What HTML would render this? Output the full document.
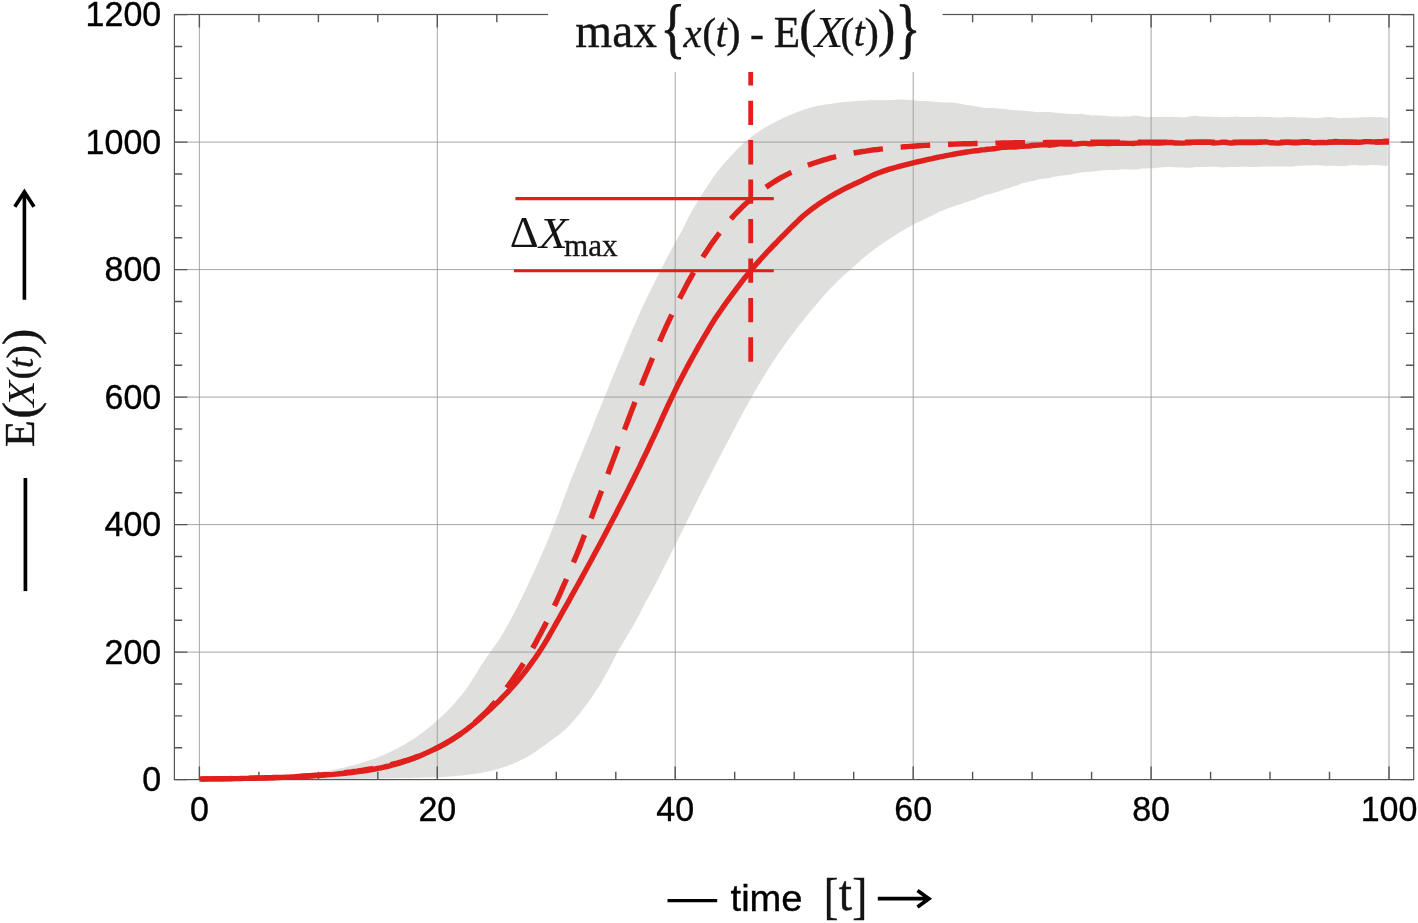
<!DOCTYPE html>
<html><head><meta charset="utf-8"><title>E(X(t)) versus time</title>
<style>html,body{margin:0;padding:0;background:#fff}svg{display:block}</style></head>
<body>
<svg width="1418" height="923" viewBox="0 0 1418 923">
<rect width="1418" height="923" fill="#fff"/>
<path d="M199.4,778.3 L202.4,778.3 L205.3,778.3 L208.3,778.3 L211.3,778.3 L214.3,778.2 L217.2,778.2 L220.2,778.1 L223.2,778.1 L226.2,778.0 L229.1,777.9 L232.1,777.9 L235.1,777.8 L238.1,777.7 L241.0,777.6 L244.0,777.5 L247.0,777.4 L250.0,777.3 L252.9,777.2 L255.9,777.1 L258.9,777.1 L261.9,776.9 L264.8,776.8 L267.8,776.7 L270.8,776.5 L273.8,776.3 L276.7,776.1 L279.7,775.9 L282.7,775.7 L285.6,775.5 L288.6,775.3 L291.6,775.1 L294.6,774.8 L297.5,774.6 L300.5,774.3 L303.5,774.0 L306.5,773.7 L309.4,773.4 L312.4,773.0 L315.4,772.7 L318.4,772.3 L321.3,771.8 L324.3,771.4 L327.3,770.9 L330.3,770.3 L333.2,769.8 L336.2,769.2 L339.2,768.6 L342.2,767.9 L345.1,767.2 L348.1,766.5 L351.1,765.8 L354.0,765.0 L357.0,764.2 L360.0,763.3 L363.0,762.4 L365.9,761.5 L368.9,760.5 L371.9,759.5 L374.9,758.4 L377.8,757.3 L380.8,756.1 L383.8,754.9 L386.8,753.6 L389.7,752.2 L392.7,750.8 L395.7,749.2 L398.7,747.7 L401.6,746.1 L404.6,744.4 L407.6,742.6 L410.6,740.8 L413.5,738.9 L416.5,736.9 L419.5,734.7 L422.5,732.5 L425.4,730.3 L428.4,727.9 L431.4,725.4 L434.3,722.9 L437.3,720.3 L440.3,717.6 L443.3,714.8 L446.2,711.9 L449.2,708.9 L452.2,705.7 L455.2,702.4 L458.1,699.0 L461.1,695.4 L464.1,691.7 L467.1,687.8 L470.0,683.4 L473.0,678.8 L476.0,674.0 L479.0,669.1 L481.9,664.3 L484.9,659.8 L487.9,655.4 L490.9,651.2 L493.8,647.1 L496.8,642.9 L499.8,638.4 L502.7,633.7 L505.7,628.6 L508.7,623.3 L511.7,617.7 L514.6,612.0 L517.6,606.1 L520.6,600.1 L523.6,594.0 L526.5,587.7 L529.5,581.4 L532.5,574.9 L535.5,568.5 L538.4,562.0 L541.4,555.2 L544.4,548.3 L547.4,541.3 L550.3,534.0 L553.3,526.7 L556.3,519.1 L559.3,511.2 L562.2,503.0 L565.2,494.9 L568.2,486.9 L571.1,479.3 L574.1,471.9 L577.1,464.6 L580.1,457.4 L583.0,450.3 L586.0,443.0 L589.0,435.6 L592.0,428.2 L594.9,420.8 L597.9,413.3 L600.9,405.9 L603.9,398.6 L606.8,391.3 L609.8,384.0 L612.8,376.7 L615.8,369.5 L618.7,362.3 L621.7,355.2 L624.7,348.1 L627.7,341.0 L630.6,334.0 L633.6,327.0 L636.6,320.2 L639.6,313.6 L642.5,307.1 L645.5,300.8 L648.5,294.6 L651.4,288.6 L654.4,282.6 L657.4,276.6 L660.4,270.7 L663.3,264.9 L666.3,259.1 L669.3,253.5 L672.3,247.9 L675.2,242.5 L678.2,237.3 L681.2,231.9 L684.2,226.2 L687.1,220.1 L690.1,214.3 L693.1,208.9 L696.1,203.9 L699.0,199.2 L702.0,194.5 L705.0,189.8 L708.0,185.2 L710.9,180.7 L713.9,176.3 L716.9,172.3 L719.9,168.5 L722.8,165.0 L725.8,161.5 L728.8,158.2 L731.7,155.0 L734.7,151.9 L737.7,148.8 L740.7,145.9 L743.6,143.1 L746.6,140.6 L749.6,138.2 L752.6,135.9 L755.5,133.8 L758.5,131.8 L761.5,129.8 L764.5,128.0 L767.4,126.2 L770.4,124.6 L773.4,122.9 L776.4,121.4 L779.3,119.9 L782.3,118.4 L785.3,117.0 L788.3,115.7 L791.2,114.5 L794.2,113.3 L797.2,112.2 L800.1,111.0 L803.1,110.0 L806.1,109.0 L809.1,108.1 L812.0,107.3 L815.0,106.5 L818.0,105.8 L821.0,105.2 L823.9,104.7 L826.9,104.3 L829.9,103.9 L832.9,103.5 L835.8,103.1 L838.8,102.7 L841.8,102.3 L844.8,102.0 L847.7,101.7 L850.7,101.5 L853.7,101.2 L856.7,100.9 L859.6,100.8 L862.6,100.7 L865.6,100.6 L868.6,100.5 L871.5,100.1 L874.5,100.2 L877.5,100.2 L880.4,100.1 L883.4,100.3 L886.4,100.3 L889.4,100.0 L892.3,99.9 L895.3,99.7 L898.3,99.5 L901.3,99.5 L904.2,99.7 L907.2,99.7 L910.2,99.9 L913.2,100.4 L916.1,100.5 L919.1,101.0 L922.1,100.9 L925.1,100.9 L928.0,101.3 L931.0,101.4 L934.0,101.8 L937.0,102.0 L939.9,102.2 L942.9,102.5 L945.9,102.5 L948.8,102.6 L951.8,102.4 L954.8,102.7 L957.8,103.2 L960.7,103.7 L963.7,104.4 L966.7,104.9 L969.7,105.3 L972.6,105.9 L975.6,106.4 L978.6,106.8 L981.6,107.5 L984.5,107.8 L987.5,108.1 L990.5,108.1 L993.5,108.1 L996.4,108.4 L999.4,108.6 L1002.4,108.7 L1005.4,109.1 L1008.3,109.6 L1011.3,109.9 L1014.3,110.1 L1017.2,110.2 L1020.2,110.5 L1023.2,110.6 L1026.2,111.1 L1029.1,111.2 L1032.1,111.5 L1035.1,111.9 L1038.1,112.2 L1041.0,112.1 L1044.0,111.9 L1047.0,112.0 L1050.0,112.1 L1052.9,112.4 L1055.9,112.8 L1058.9,113.1 L1061.9,113.2 L1064.8,113.7 L1067.8,113.8 L1070.8,114.0 L1073.8,114.0 L1076.7,113.9 L1079.7,114.1 L1082.7,114.0 L1085.7,114.8 L1088.6,115.1 L1091.6,115.4 L1094.6,115.6 L1097.5,115.2 L1100.5,115.5 L1103.5,115.8 L1106.5,115.9 L1109.4,116.3 L1112.4,116.4 L1115.4,116.2 L1118.4,116.4 L1121.3,116.7 L1124.3,116.5 L1127.3,116.4 L1130.3,116.2 L1133.2,115.5 L1136.2,115.7 L1139.2,116.1 L1142.2,116.5 L1145.1,117.1 L1148.1,117.2 L1151.1,116.9 L1154.1,117.1 L1157.0,116.9 L1160.0,117.1 L1163.0,117.1 L1166.0,116.8 L1168.9,116.9 L1171.9,116.7 L1174.9,116.9 L1177.8,117.0 L1180.8,117.2 L1183.8,117.3 L1186.8,116.9 L1189.7,116.4 L1192.7,115.9 L1195.7,115.8 L1198.7,116.3 L1201.6,116.4 L1204.6,116.6 L1207.6,116.8 L1210.6,116.7 L1213.5,117.0 L1216.5,117.1 L1219.5,117.1 L1222.5,117.2 L1225.4,117.3 L1228.4,116.9 L1231.4,116.9 L1234.4,116.8 L1237.3,116.6 L1240.3,116.9 L1243.3,117.1 L1246.2,117.1 L1249.2,117.0 L1252.2,117.1 L1255.2,116.9 L1258.1,116.6 L1261.1,116.9 L1264.1,116.9 L1267.1,117.1 L1270.0,117.1 L1273.0,117.3 L1276.0,117.5 L1279.0,117.5 L1281.9,117.6 L1284.9,117.2 L1287.9,116.8 L1290.9,117.0 L1293.8,117.0 L1296.8,117.2 L1299.8,117.6 L1302.8,117.2 L1305.7,117.5 L1308.7,117.8 L1311.7,117.8 L1314.7,118.2 L1317.6,118.1 L1320.6,117.7 L1323.6,117.6 L1326.5,117.1 L1329.5,117.0 L1332.5,117.3 L1335.5,117.5 L1338.4,118.0 L1341.4,118.2 L1344.4,117.8 L1347.4,117.8 L1350.3,118.0 L1353.3,117.7 L1356.3,117.8 L1359.3,117.6 L1362.2,117.3 L1365.2,117.3 L1368.2,117.3 L1371.2,117.1 L1374.1,117.1 L1377.1,117.2 L1380.1,117.1 L1383.1,117.6 L1386.0,117.7 L1387.8,117.8 L1387.8,165.4 L1386.0,165.9 L1383.1,165.8 L1380.1,165.3 L1377.1,165.0 L1374.1,164.9 L1371.2,164.8 L1368.2,165.3 L1365.2,165.5 L1362.2,165.5 L1359.3,165.4 L1356.3,165.1 L1353.3,165.1 L1350.3,165.3 L1347.4,165.8 L1344.4,166.0 L1341.4,166.2 L1338.4,166.0 L1335.5,166.0 L1332.5,165.8 L1329.5,165.8 L1326.5,165.9 L1323.6,165.4 L1320.6,165.4 L1317.6,165.2 L1314.7,165.1 L1311.7,165.4 L1308.7,165.5 L1305.7,165.6 L1302.8,165.8 L1299.8,165.8 L1296.8,166.1 L1293.8,166.3 L1290.9,166.7 L1287.9,166.6 L1284.9,166.5 L1281.9,166.5 L1279.0,166.4 L1276.0,166.5 L1273.0,166.5 L1270.0,166.5 L1267.1,166.8 L1264.1,166.5 L1261.1,166.8 L1258.1,167.0 L1255.2,166.7 L1252.2,167.1 L1249.2,166.9 L1246.2,166.6 L1243.3,166.7 L1240.3,166.8 L1237.3,166.9 L1234.4,166.8 L1231.4,166.9 L1228.4,167.1 L1225.4,167.3 L1222.5,167.5 L1219.5,167.2 L1216.5,166.8 L1213.5,166.8 L1210.6,166.8 L1207.6,167.1 L1204.6,166.8 L1201.6,166.9 L1198.7,166.9 L1195.7,167.0 L1192.7,167.4 L1189.7,167.7 L1186.8,167.8 L1183.8,167.6 L1180.8,167.6 L1177.8,167.5 L1174.9,167.2 L1171.9,167.0 L1168.9,166.9 L1166.0,167.0 L1163.0,167.3 L1160.0,167.5 L1157.0,167.8 L1154.1,168.2 L1151.1,168.2 L1148.1,168.4 L1145.1,168.4 L1142.2,168.6 L1139.2,168.9 L1136.2,169.6 L1133.2,169.8 L1130.3,169.4 L1127.3,169.5 L1124.3,169.2 L1121.3,169.3 L1118.4,169.8 L1115.4,169.9 L1112.4,170.1 L1109.4,170.0 L1106.5,170.3 L1103.5,170.3 L1100.5,170.6 L1097.5,171.1 L1094.6,171.2 L1091.6,171.6 L1088.6,171.8 L1085.7,172.0 L1082.7,172.2 L1079.7,172.6 L1076.7,173.2 L1073.8,173.7 L1070.8,174.4 L1067.8,174.9 L1064.8,175.3 L1061.9,175.6 L1058.9,176.0 L1055.9,176.5 L1052.9,177.1 L1050.0,177.9 L1047.0,178.3 L1044.0,178.8 L1041.0,178.9 L1038.1,179.5 L1035.1,180.4 L1032.1,180.9 L1029.1,181.6 L1026.2,182.5 L1023.2,183.0 L1020.2,184.1 L1017.2,185.4 L1014.3,186.3 L1011.3,187.2 L1008.3,188.2 L1005.4,189.1 L1002.4,189.9 L999.4,191.3 L996.4,192.0 L993.5,192.9 L990.5,193.8 L987.5,194.4 L984.5,195.6 L981.6,196.6 L978.6,197.8 L975.6,199.2 L972.6,199.9 L969.7,201.1 L966.7,202.0 L963.7,202.8 L960.7,204.2 L957.8,204.9 L954.8,205.9 L951.8,207.1 L948.8,208.0 L945.9,209.2 L942.9,210.4 L939.9,211.6 L937.0,213.0 L934.0,214.7 L931.0,216.1 L928.0,217.6 L925.1,219.1 L922.1,220.4 L919.1,221.8 L916.1,223.1 L913.2,224.6 L910.2,226.2 L907.2,227.9 L904.2,229.7 L901.3,231.5 L898.3,233.3 L895.3,235.2 L892.3,237.0 L889.4,238.9 L886.4,240.9 L883.4,242.9 L880.4,245.1 L877.5,247.2 L874.5,249.3 L871.5,251.5 L868.6,253.8 L865.6,256.2 L862.6,258.8 L859.6,261.4 L856.7,264.0 L853.7,266.7 L850.7,269.4 L847.7,272.0 L844.8,274.6 L841.8,277.2 L838.8,280.0 L835.8,282.9 L832.9,285.9 L829.9,289.1 L826.9,292.3 L823.9,295.6 L821.0,299.0 L818.0,302.5 L815.0,306.0 L812.0,309.6 L809.1,313.2 L806.1,316.8 L803.1,320.5 L800.1,324.2 L797.2,328.0 L794.2,331.9 L791.2,335.8 L788.3,339.8 L785.3,343.9 L782.3,348.1 L779.3,352.3 L776.4,356.7 L773.4,361.1 L770.4,365.7 L767.4,370.5 L764.5,375.3 L761.5,380.2 L758.5,385.2 L755.5,390.3 L752.6,395.4 L749.6,400.7 L746.6,406.0 L743.6,411.5 L740.7,417.0 L737.7,422.6 L734.7,428.3 L731.7,434.0 L728.8,439.6 L725.8,445.3 L722.8,450.9 L719.9,456.6 L716.9,462.2 L713.9,468.0 L710.9,473.7 L708.0,479.5 L705.0,485.3 L702.0,491.2 L699.0,497.1 L696.1,503.1 L693.1,509.1 L690.1,515.1 L687.1,521.0 L684.2,527.0 L681.2,532.9 L678.2,538.9 L675.2,544.9 L672.3,550.8 L669.3,556.8 L666.3,562.7 L663.3,568.6 L660.4,574.5 L657.4,580.4 L654.4,586.2 L651.4,591.8 L648.5,597.1 L645.5,602.3 L642.5,608.0 L639.6,613.9 L636.6,619.6 L633.6,624.9 L630.6,630.0 L627.7,635.0 L624.7,640.0 L621.7,644.9 L618.7,650.0 L615.8,655.5 L612.8,661.4 L609.8,667.3 L606.8,672.8 L603.9,678.1 L600.9,683.3 L597.9,688.1 L594.9,692.6 L592.0,696.9 L589.0,701.1 L586.0,705.2 L583.0,709.1 L580.1,712.9 L577.1,716.6 L574.1,720.3 L571.1,723.6 L568.2,726.7 L565.2,729.4 L562.2,732.0 L559.3,734.5 L556.3,736.8 L553.3,739.0 L550.3,741.1 L547.4,743.2 L544.4,745.4 L541.4,747.6 L538.4,749.7 L535.5,751.8 L532.5,753.7 L529.5,755.5 L526.5,757.2 L523.6,758.8 L520.6,760.3 L517.6,761.7 L514.6,763.0 L511.7,764.3 L508.7,765.4 L505.7,766.5 L502.7,767.5 L499.8,768.4 L496.8,769.3 L493.8,770.1 L490.9,770.9 L487.9,771.6 L484.9,772.3 L481.9,772.8 L479.0,773.3 L476.0,773.7 L473.0,774.1 L470.0,774.5 L467.1,774.8 L464.1,775.2 L461.1,775.4 L458.1,775.7 L455.2,776.0 L452.2,776.2 L449.2,776.5 L446.2,776.7 L443.3,776.9 L440.3,777.1 L437.3,777.2 L434.3,777.3 L431.4,777.4 L428.4,777.5 L425.4,777.6 L422.5,777.6 L419.5,777.7 L416.5,777.8 L413.5,777.8 L410.6,777.9 L407.6,778.0 L404.6,778.0 L401.6,778.1 L398.7,778.1 L395.7,778.2 L392.7,778.2 L389.7,778.3 L386.8,778.3 L383.8,778.4 L380.8,778.4 L377.8,778.5 L374.9,778.5 L371.9,778.6 L368.9,778.6 L365.9,778.7 L363.0,778.7 L360.0,778.8 L357.0,778.8 L354.0,778.9 L351.1,778.9 L348.1,779.0 L345.1,779.0 L342.2,779.0 L339.2,779.1 L336.2,779.1 L333.2,779.2 L330.3,779.2 L327.3,779.2 L324.3,779.2 L321.3,779.3 L318.4,779.3 L315.4,779.3 L312.4,779.3 L309.4,779.3 L306.5,779.3 L303.5,779.4 L300.5,779.4 L297.5,779.4 L294.6,779.4 L291.6,779.4 L288.6,779.4 L285.6,779.4 L282.7,779.4 L279.7,779.4 L276.7,779.5 L273.8,779.5 L270.8,779.5 L267.8,779.5 L264.8,779.5 L261.9,779.5 L258.9,779.5 L255.9,779.5 L252.9,779.5 L250.0,779.5 L247.0,779.5 L244.0,779.5 L241.0,779.6 L238.1,779.6 L235.1,779.6 L232.1,779.6 L229.1,779.6 L226.2,779.6 L223.2,779.6 L220.2,779.6 L217.2,779.6 L214.3,779.6 L211.3,779.6 L208.3,779.6 L205.3,779.6 L202.4,779.6 L199.4,779.6Z" fill="#dfdfde"/>
<path d="M199.4,14.5 V779.6 M437.3,14.5 V779.6 M675.2,14.5 V779.6 M913.2,14.5 V779.6 M1151.1,14.5 V779.6 M1389.0,14.5 V779.6 M174.4,652.1 H1413.7 M174.4,524.6 H1413.7 M174.4,397.1 H1413.7 M174.4,269.6 H1413.7 M174.4,142.1 H1413.7" stroke="#9c9c9c" stroke-width="0.9" fill="none"/>
<rect x="174.4" y="14.5" width="1239.3" height="765.1" fill="none" stroke="#555" stroke-width="1.2"/>
<path d="M199.4,779.6 v-13 M199.4,14.5 v13 M258.9,779.6 v-7.8 M258.9,14.5 v7.8 M318.4,779.6 v-7.8 M318.4,14.5 v7.8 M377.8,779.6 v-7.8 M377.8,14.5 v7.8 M437.3,779.6 v-13 M437.3,14.5 v13 M496.8,779.6 v-7.8 M496.8,14.5 v7.8 M556.3,779.6 v-7.8 M556.3,14.5 v7.8 M615.8,779.6 v-7.8 M615.8,14.5 v7.8 M675.2,779.6 v-13 M675.2,14.5 v13 M734.7,779.6 v-7.8 M734.7,14.5 v7.8 M794.2,779.6 v-7.8 M794.2,14.5 v7.8 M853.7,779.6 v-7.8 M853.7,14.5 v7.8 M913.2,779.6 v-13 M913.2,14.5 v13 M972.6,779.6 v-7.8 M972.6,14.5 v7.8 M1032.1,779.6 v-7.8 M1032.1,14.5 v7.8 M1091.6,779.6 v-7.8 M1091.6,14.5 v7.8 M1151.1,779.6 v-13 M1151.1,14.5 v13 M1210.6,779.6 v-7.8 M1210.6,14.5 v7.8 M1270.0,779.6 v-7.8 M1270.0,14.5 v7.8 M1329.5,779.6 v-7.8 M1329.5,14.5 v7.8 M1389.0,779.6 v-13 M1389.0,14.5 v13 M174.4,779.6 h13 M1413.7,779.6 h-13 M174.4,747.7 h7.8 M1413.7,747.7 h-7.8 M174.4,715.9 h7.8 M1413.7,715.9 h-7.8 M174.4,684.0 h7.8 M1413.7,684.0 h-7.8 M174.4,652.1 h13 M1413.7,652.1 h-13 M174.4,620.2 h7.8 M1413.7,620.2 h-7.8 M174.4,588.4 h7.8 M1413.7,588.4 h-7.8 M174.4,556.5 h7.8 M1413.7,556.5 h-7.8 M174.4,524.6 h13 M1413.7,524.6 h-13 M174.4,492.7 h7.8 M1413.7,492.7 h-7.8 M174.4,460.9 h7.8 M1413.7,460.9 h-7.8 M174.4,429.0 h7.8 M1413.7,429.0 h-7.8 M174.4,397.1 h13 M1413.7,397.1 h-13 M174.4,365.2 h7.8 M1413.7,365.2 h-7.8 M174.4,333.4 h7.8 M1413.7,333.4 h-7.8 M174.4,301.5 h7.8 M1413.7,301.5 h-7.8 M174.4,269.6 h13 M1413.7,269.6 h-13 M174.4,237.7 h7.8 M1413.7,237.7 h-7.8 M174.4,205.9 h7.8 M1413.7,205.9 h-7.8 M174.4,174.0 h7.8 M1413.7,174.0 h-7.8 M174.4,142.1 h13 M1413.7,142.1 h-13 M174.4,110.2 h7.8 M1413.7,110.2 h-7.8 M174.4,78.4 h7.8 M1413.7,78.4 h-7.8 M174.4,46.5 h7.8 M1413.7,46.5 h-7.8 M174.4,14.6 h13 M1413.7,14.6 h-13" stroke="#555" stroke-width="1.4" fill="none"/>
<path d="M199.4,779.0 L202.4,779.0 L205.3,778.9 L208.3,778.9 L211.3,778.9 L214.3,778.8 L217.2,778.8 L220.2,778.7 L223.2,778.7 L226.2,778.6 L229.1,778.6 L232.1,778.5 L235.1,778.5 L238.1,778.4 L241.0,778.4 L244.0,778.3 L247.0,778.2 L250.0,778.2 L252.9,778.1 L255.9,778.0 L258.9,777.9 L261.9,777.9 L264.8,777.8 L267.8,777.7 L270.8,777.6 L273.8,777.5 L276.7,777.4 L279.7,777.3 L282.7,777.1 L285.6,777.0 L288.6,776.9 L291.6,776.7 L294.6,776.6 L297.5,776.4 L300.5,776.3 L303.5,776.1 L306.5,775.9 L309.4,775.7 L312.4,775.5 L315.4,775.3 L318.4,775.1 L321.3,774.9 L324.3,774.6 L327.3,774.4 L330.3,774.1 L333.2,773.9 L336.2,773.6 L339.2,773.3 L342.2,772.9 L345.1,772.6 L348.1,772.2 L351.1,771.9 L354.0,771.5 L357.0,771.1 L360.0,770.6 L363.0,770.2 L365.9,769.7 L368.9,769.2 L371.9,768.7 L374.9,768.1 L377.8,767.6 L380.8,767.0 L383.8,766.3 L386.8,765.7 L389.7,765.0 L392.7,764.2 L395.7,763.5 L398.7,762.6 L401.6,761.8 L404.6,760.9 L407.6,760.0 L410.6,759.0 L413.5,758.0 L416.5,756.9 L419.5,755.8 L422.5,754.6 L425.4,753.4 L428.4,752.1 L431.4,750.8 L434.3,749.4 L437.3,747.9 L440.3,746.4 L443.3,744.7 L446.2,743.1 L449.2,741.3 L452.2,739.5 L455.2,737.5 L458.1,735.5 L461.1,733.4 L464.1,731.2 L467.1,729.0 L470.0,726.6 L473.0,724.1 L476.0,721.5 L479.0,718.8 L481.9,716.0 L484.9,713.1 L487.9,710.1 L490.9,706.9 L493.8,703.6 L496.8,700.2 L499.8,696.7 L502.7,693.0 L505.7,689.2 L508.7,685.2 L511.7,681.1 L514.6,676.9 L517.6,672.5 L520.6,668.0 L523.6,663.3 L526.5,658.5 L529.5,653.5 L532.5,648.4 L535.5,643.1 L538.4,637.6 L541.4,632.0 L544.4,626.3 L547.4,620.4 L550.3,614.3 L553.3,608.1 L556.3,601.8 L559.3,595.3 L562.2,588.7 L565.2,582.0 L568.2,575.1 L571.1,568.1 L574.1,560.9 L577.1,553.7 L580.1,546.4 L583.0,538.9 L586.0,531.4 L589.0,523.8 L592.0,516.1 L594.9,508.3 L597.9,500.5 L600.9,492.6 L603.9,484.7 L606.8,476.8 L609.8,468.8 L612.8,460.9 L615.8,452.9 L618.7,444.9 L621.7,437.0 L624.7,429.1 L627.7,421.2 L630.6,413.4 L633.6,405.6 L636.6,397.9 L639.6,390.3 L642.5,382.8 L645.5,375.3 L648.5,368.0 L651.4,360.8 L654.4,353.6 L657.4,346.6 L660.4,339.7 L663.3,333.0 L666.3,326.4 L669.3,319.9 L672.3,313.6 L675.2,307.4 L678.2,301.3 L681.2,295.4 L684.2,289.7 L687.1,284.1 L690.1,278.6 L693.1,273.3 L696.1,268.2 L699.0,263.2 L702.0,258.4 L705.0,253.7 L708.0,249.2 L710.9,244.8 L713.9,240.6 L716.9,236.5 L719.9,232.5 L722.8,228.7 L725.8,225.0 L728.8,221.5 L731.7,218.1 L734.7,214.8 L737.7,211.6 L740.7,208.6 L743.6,205.7 L746.6,202.9 L749.6,200.2 L752.6,197.6 L755.5,195.1 L758.5,192.7 L761.5,190.5 L764.5,188.3 L767.4,186.2 L770.4,184.2 L773.4,182.2 L776.4,180.4 L779.3,178.6 L782.3,177.0 L785.3,175.3 L788.3,173.8 L791.2,172.3 L794.2,170.9 L797.2,169.6 L800.1,168.3 L803.1,167.1 L806.1,165.9 L809.1,164.8 L812.0,163.7 L815.0,162.7 L818.0,161.7 L821.0,160.8 L823.9,159.9 L826.9,159.1 L829.9,158.2 L832.9,157.5 L835.8,156.7 L838.8,156.0 L841.8,155.4 L844.8,154.7 L847.7,154.1 L850.7,153.6 L853.7,153.0 L856.7,152.5 L859.6,152.0 L862.6,151.5 L865.6,151.1 L868.6,150.6 L871.5,150.2 L874.5,149.8 L877.5,149.5 L880.4,149.1 L883.4,148.8 L886.4,148.4 L889.4,148.1 L892.3,147.8 L895.3,147.6 L898.3,147.3 L901.3,147.1 L904.2,146.8 L907.2,146.6 L910.2,146.4 L913.2,146.2 L916.1,146.0 L919.1,145.8 L922.1,145.6 L925.1,145.4 L928.0,145.3 L931.0,145.1 L934.0,145.0 L937.0,144.8 L939.9,144.7 L942.9,144.6 L945.9,144.4 L948.8,144.3 L951.8,144.2 L954.8,144.1 L957.8,144.0 L960.7,143.9 L963.7,143.8 L966.7,143.8 L969.7,143.7 L972.6,143.6 L975.6,143.5 L978.6,143.5 L981.6,143.4 L984.5,143.3 L987.5,143.3 L990.5,143.2 L993.5,143.2 L996.4,143.1 L999.4,143.1 L1002.4,143.0 L1005.4,143.0 L1008.3,142.9 L1011.3,142.9 L1014.3,142.8 L1017.2,142.8 L1020.2,142.8 L1023.2,142.7 L1026.2,142.7 L1029.1,142.7 L1032.1,142.7 L1035.1,142.6 L1038.1,142.6 L1041.0,142.6 L1044.0,142.6 L1047.0,142.5 L1050.0,142.5 L1052.9,142.5 L1055.9,142.5 L1058.9,142.5 L1061.9,142.4 L1064.8,142.4 L1067.8,142.4 L1070.8,142.4 L1073.8,142.4 L1076.7,142.4 L1079.7,142.3 L1082.7,142.3 L1085.7,142.3 L1088.6,142.3 L1091.6,142.3 L1094.6,142.3 L1097.5,142.3 L1100.5,142.3 L1103.5,142.3 L1106.5,142.3 L1109.4,142.3 L1112.4,142.2 L1115.4,142.2 L1118.4,142.2 L1121.3,142.2 L1124.3,142.2 L1127.3,142.2 L1130.3,142.2 L1133.2,142.2 L1136.2,142.2 L1139.2,142.2 L1142.2,142.2 L1145.1,142.2 L1148.1,142.2 L1151.1,142.2 L1154.1,142.2 L1157.0,142.2 L1160.0,142.2 L1163.0,142.2 L1166.0,142.2 L1168.9,142.2 L1171.9,142.2 L1174.9,142.2 L1177.8,142.1 L1180.8,142.1 L1183.8,142.1 L1186.8,142.1 L1189.7,142.1 L1192.7,142.1 L1195.7,142.1 L1198.7,142.1 L1201.6,142.1 L1204.6,142.1 L1207.6,142.1 L1210.6,142.1 L1213.5,142.1 L1216.5,142.1 L1219.5,142.1 L1222.5,142.1 L1225.4,142.1 L1228.4,142.1 L1231.4,142.1 L1234.4,142.1 L1237.3,142.1 L1240.3,142.1 L1243.3,142.1 L1246.2,142.1 L1249.2,142.1 L1252.2,142.1 L1255.2,142.1 L1258.1,142.1 L1261.1,142.1 L1264.1,142.1 L1267.1,142.1 L1270.0,142.1 L1273.0,142.1 L1276.0,142.1 L1279.0,142.1 L1281.9,142.1 L1284.9,142.1 L1287.9,142.1 L1290.9,142.1 L1293.8,142.1 L1296.8,142.1 L1299.8,142.1 L1302.8,142.1 L1305.7,142.1 L1308.7,142.1 L1311.7,142.1 L1314.7,142.1 L1317.6,142.1 L1320.6,142.1 L1323.6,142.1 L1326.5,142.1 L1329.5,142.1 L1332.5,142.1 L1335.5,142.1 L1338.4,142.1 L1341.4,142.1 L1344.4,142.1 L1347.4,142.1 L1350.3,142.1 L1353.3,142.1 L1356.3,142.1 L1359.3,142.1 L1362.2,142.1 L1365.2,142.1 L1368.2,142.1 L1371.2,142.1 L1374.1,142.1 L1377.1,142.1 L1380.1,142.1 L1383.1,142.1 L1386.0,142.1 L1389.0,142.1" fill="none" stroke="#e0201c" stroke-width="5.4" stroke-dasharray="29.6 17.84" stroke-dashoffset="44.97"/>
<path d="M199.4,779.0 L202.4,779.0 L205.3,779.0 L208.3,778.9 L211.3,778.9 L214.3,778.9 L217.2,778.9 L220.2,778.8 L223.2,778.8 L226.2,778.8 L229.1,778.7 L232.1,778.7 L235.1,778.6 L238.1,778.6 L241.0,778.5 L244.0,778.4 L247.0,778.4 L250.0,778.3 L252.9,778.3 L255.9,778.2 L258.9,778.1 L261.9,778.1 L264.8,778.0 L267.8,777.9 L270.8,777.8 L273.8,777.7 L276.7,777.6 L279.7,777.5 L282.7,777.4 L285.6,777.2 L288.6,777.1 L291.6,776.9 L294.6,776.8 L297.5,776.6 L300.5,776.5 L303.5,776.3 L306.5,776.2 L309.4,776.0 L312.4,775.8 L315.4,775.6 L318.4,775.5 L321.3,775.3 L324.3,775.1 L327.3,774.8 L330.3,774.6 L333.2,774.4 L336.2,774.1 L339.2,773.8 L342.2,773.5 L345.1,773.2 L348.1,772.9 L351.1,772.6 L354.0,772.2 L357.0,771.8 L360.0,771.4 L363.0,771.0 L365.9,770.5 L368.9,770.0 L371.9,769.5 L374.9,769.0 L377.8,768.4 L380.8,767.8 L383.8,767.2 L386.8,766.5 L389.7,765.8 L392.7,765.0 L395.7,764.1 L398.7,763.3 L401.6,762.4 L404.6,761.4 L407.6,760.5 L410.6,759.5 L413.5,758.4 L416.5,757.2 L419.5,756.0 L422.5,754.7 L425.4,753.4 L428.4,752.1 L431.4,750.6 L434.3,749.2 L437.3,747.7 L440.3,746.2 L443.3,744.6 L446.2,742.9 L449.2,741.2 L452.2,739.4 L455.2,737.5 L458.1,735.6 L461.1,733.5 L464.1,731.4 L467.1,729.2 L470.0,726.9 L473.0,724.5 L476.0,722.0 L479.0,719.4 L481.9,716.8 L484.9,714.1 L487.9,711.4 L490.9,708.7 L493.8,705.9 L496.8,703.1 L499.8,700.2 L502.7,697.2 L505.7,694.1 L508.7,691.0 L511.7,687.7 L514.6,684.4 L517.6,680.9 L520.6,677.3 L523.6,673.6 L526.5,669.8 L529.5,665.8 L532.5,661.7 L535.5,657.5 L538.4,653.2 L541.4,648.6 L544.4,643.9 L547.4,638.9 L550.3,633.7 L553.3,628.5 L556.3,623.1 L559.3,617.8 L562.2,612.6 L565.2,607.3 L568.2,602.1 L571.1,596.7 L574.1,591.4 L577.1,586.0 L580.1,580.6 L583.0,575.2 L586.0,569.8 L589.0,564.3 L592.0,558.8 L594.9,553.3 L597.9,547.8 L600.9,542.2 L603.9,536.6 L606.8,531.0 L609.8,525.3 L612.8,519.6 L615.8,513.9 L618.7,508.1 L621.7,502.3 L624.7,496.5 L627.7,490.6 L630.6,484.7 L633.6,478.7 L636.6,472.6 L639.6,466.6 L642.5,460.4 L645.5,454.2 L648.5,448.0 L651.4,441.7 L654.4,435.3 L657.4,428.8 L660.4,422.2 L663.3,415.6 L666.3,409.1 L669.3,402.6 L672.3,396.4 L675.2,390.3 L678.2,384.3 L681.2,378.5 L684.2,372.8 L687.1,367.1 L690.1,361.6 L693.1,356.2 L696.1,350.9 L699.0,345.6 L702.0,340.5 L705.0,335.4 L708.0,330.3 L710.9,325.4 L713.9,320.6 L716.9,316.1 L719.9,311.7 L722.8,307.4 L725.8,303.2 L728.8,299.2 L731.7,295.2 L734.7,291.1 L737.7,287.1 L740.7,283.1 L743.6,279.3 L746.6,275.6 L749.6,272.0 L752.6,268.5 L755.5,265.0 L758.5,261.6 L761.5,258.3 L764.5,255.0 L767.4,251.8 L770.4,248.6 L773.4,245.5 L776.4,242.5 L779.3,239.4 L782.3,236.3 L785.3,233.3 L788.3,230.3 L791.2,227.4 L794.2,224.5 L797.2,221.6 L800.1,218.8 L803.1,216.1 L806.1,213.5 L809.1,211.1 L812.0,208.9 L815.0,206.7 L818.0,204.6 L821.0,202.6 L823.9,200.6 L826.9,198.7 L829.9,196.8 L832.9,195.1 L835.8,193.4 L838.8,191.8 L841.8,190.2 L844.8,188.7 L847.7,187.2 L850.7,185.8 L853.7,184.3 L856.7,183.0 L859.6,181.6 L862.6,180.2 L865.6,178.7 L868.6,177.3 L871.5,175.9 L874.5,174.5 L877.5,173.3 L880.4,172.2 L883.4,171.1 L886.4,170.1 L889.4,169.2 L892.3,168.3 L895.3,167.5 L898.3,166.7 L901.3,165.9 L904.2,165.1 L907.2,164.4 L910.2,163.7 L913.2,162.9 L916.1,162.2 L919.1,161.5 L922.1,160.8 L925.1,160.1 L928.0,159.4 L931.0,158.8 L934.0,158.1 L937.0,157.5 L939.9,156.9 L942.9,156.3 L945.9,155.7 L948.8,155.2 L951.8,154.6 L954.8,154.0 L957.8,153.5 L960.7,153.0 L963.7,152.5 L966.7,152.0 L969.7,151.6 L972.6,151.2 L975.6,150.8 L978.6,150.5 L981.6,149.9 L984.5,149.7 L987.5,149.3 L990.5,149.1 L993.5,148.7 L996.4,148.3 L999.4,147.8 L1002.4,147.4 L1005.4,147.2 L1008.3,147.1 L1011.3,147.1 L1014.3,147.0 L1017.2,146.8 L1020.2,146.3 L1023.2,146.3 L1026.2,146.1 L1029.1,146.0 L1032.1,145.5 L1035.1,145.2 L1038.1,145.1 L1041.0,144.9 L1044.0,144.9 L1047.0,144.8 L1050.0,145.2 L1052.9,144.8 L1055.9,144.4 L1058.9,143.8 L1061.9,143.9 L1064.8,144.0 L1067.8,144.0 L1070.8,144.1 L1073.8,144.1 L1076.7,144.0 L1079.7,143.6 L1082.7,143.4 L1085.7,143.4 L1088.6,143.7 L1091.6,143.8 L1094.6,143.5 L1097.5,143.2 L1100.5,143.1 L1103.5,143.4 L1106.5,143.6 L1109.4,143.6 L1112.4,143.3 L1115.4,143.2 L1118.4,143.2 L1121.3,143.3 L1124.3,143.2 L1127.3,143.4 L1130.3,143.4 L1133.2,143.5 L1136.2,143.1 L1139.2,143.1 L1142.2,142.9 L1145.1,142.7 L1148.1,142.6 L1151.1,142.8 L1154.1,143.0 L1157.0,143.0 L1160.0,143.0 L1163.0,142.9 L1166.0,142.6 L1168.9,142.4 L1171.9,142.5 L1174.9,143.0 L1177.8,142.9 L1180.8,143.1 L1183.8,143.1 L1186.8,142.9 L1189.7,142.8 L1192.7,142.4 L1195.7,142.4 L1198.7,142.1 L1201.6,142.2 L1204.6,142.1 L1207.6,142.2 L1210.6,142.4 L1213.5,143.0 L1216.5,142.9 L1219.5,142.6 L1222.5,142.1 L1225.4,142.3 L1228.4,142.7 L1231.4,143.0 L1234.4,142.7 L1237.3,142.6 L1240.3,142.5 L1243.3,142.5 L1246.2,142.5 L1249.2,142.5 L1252.2,142.5 L1255.2,142.5 L1258.1,142.4 L1261.1,142.1 L1264.1,142.0 L1267.1,142.0 L1270.0,142.7 L1273.0,142.7 L1276.0,143.1 L1279.0,143.0 L1281.9,142.9 L1284.9,142.4 L1287.9,142.2 L1290.9,142.6 L1293.8,142.8 L1296.8,142.9 L1299.8,142.5 L1302.8,142.0 L1305.7,141.8 L1308.7,142.0 L1311.7,142.6 L1314.7,142.7 L1317.6,142.5 L1320.6,142.5 L1323.6,142.5 L1326.5,142.6 L1329.5,142.2 L1332.5,142.0 L1335.5,141.5 L1338.4,141.8 L1341.4,141.9 L1344.4,142.0 L1347.4,142.0 L1350.3,142.1 L1353.3,142.3 L1356.3,142.4 L1359.3,142.2 L1362.2,142.0 L1365.2,141.6 L1368.2,141.6 L1371.2,141.8 L1374.1,141.9 L1377.1,142.0 L1380.1,141.6 L1383.1,141.5 L1386.0,141.3 L1389.0,141.3" fill="none" stroke="#e0201c" stroke-width="5.4" stroke-linejoin="round"/>
<path d="M515.4,198.6 H773.8 M513.9,270.8 H773.8" stroke="#e0201c" stroke-width="3.1" fill="none"/>
<path d="M750.7,61.2 V361.8" stroke="#e0201c" stroke-width="4.8" stroke-dasharray="24.3 15.15" fill="none"/>
<rect x="548" y="0" width="394.5" height="72" fill="#fff"/>
<g font-family="'Liberation Sans', sans-serif" font-size="34" fill="#000" stroke="#000" stroke-width="0.35">
<text transform="translate(199.4 820.6) scale(1 1.04)" text-anchor="middle">0</text>
<text transform="translate(437.3 820.6) scale(1 1.04)" text-anchor="middle">20</text>
<text transform="translate(675.2 820.6) scale(1 1.04)" text-anchor="middle">40</text>
<text transform="translate(913.2 820.6) scale(1 1.04)" text-anchor="middle">60</text>
<text transform="translate(1151.1 820.6) scale(1 1.04)" text-anchor="middle">80</text>
<text transform="translate(1389.0 820.6) scale(1 1.04)" text-anchor="middle">100</text>
<text transform="translate(161.2 791.3) scale(1 1.04)" text-anchor="end">0</text>
<text transform="translate(161.2 663.8) scale(1 1.04)" text-anchor="end">200</text>
<text transform="translate(161.2 536.3) scale(1 1.04)" text-anchor="end">400</text>
<text transform="translate(161.2 408.8) scale(1 1.04)" text-anchor="end">600</text>
<text transform="translate(161.2 281.3) scale(1 1.04)" text-anchor="end">800</text>
<text transform="translate(161.2 153.8) scale(1 1.04)" text-anchor="end">1000</text>
<text transform="translate(161.2 26.3) scale(1 1.04)" text-anchor="end">1200</text>
</g>
<path d="M667.5,900.6 H717.2" stroke="#000" stroke-width="3.4" fill="none"/>
<text transform="matrix(0.3813 0 0 0.3676 730.54 910.63)" font-size="100" font-family="'Liberation Sans', sans-serif" stroke="#000" stroke-width="0.35" vector-effect="non-scaling-stroke" fill="#000">time</text>
<text transform="matrix(0.4391 0 0 0.5037 823.83 913.45)" font-size="100" font-family="'Liberation Serif', serif" stroke="#141414" stroke-width="0.35" vector-effect="non-scaling-stroke" fill="#141414">[</text>
<text transform="matrix(0.4769 0 0 0.4982 838.82 910.30)" font-size="100" font-family="'Liberation Serif', serif" stroke="#141414" stroke-width="0.35" vector-effect="non-scaling-stroke" fill="#141414">t</text>
<text transform="matrix(0.4545 0 0 0.5037 852.18 913.45)" font-size="100" font-family="'Liberation Serif', serif" stroke="#141414" stroke-width="0.35" vector-effect="non-scaling-stroke" fill="#141414">]</text>
<path d="M877.8,898.7 H929.5 M917.5,890.5 L928.9,898.7 L917.5,906.9" stroke="#000" stroke-width="3.7" fill="none" stroke-linejoin="miter" stroke-miterlimit="10"/>
<path d="M25.4,478 V591.1" stroke="#000" stroke-width="3.7" fill="none"/>
<path d="M24.4,299.8 V191 M14.8,206.7 L24.4,191.9 L34.0,206.7" stroke="#000" stroke-width="3.6" fill="none" stroke-linejoin="miter" stroke-miterlimit="10"/>
<g transform="rotate(-90)">
<text transform="matrix(0.4358 0 0 0.4292 -447.01 34.10)" font-size="100" font-family="'Liberation Serif', serif" stroke="#141414" stroke-width="0.35" vector-effect="non-scaling-stroke" fill="#141414">E</text>
<text transform="matrix(0.5077 0 0 0.4933 -418.63 36.24)" font-size="100" font-family="'Liberation Serif', serif" stroke="#141414" stroke-width="0.35" vector-effect="non-scaling-stroke" fill="#141414">(</text>
<text transform="matrix(0.4209 0 0 0.3862 -406.54 33.80)" font-size="100" font-family="'Liberation Serif', serif" font-style="italic" fill="#141414">X</text>
<text transform="matrix(0.3962 0 0 0.3733 -379.58 33.36)" font-size="100" font-family="'Liberation Serif', serif" stroke="#141414" stroke-width="0.35" vector-effect="non-scaling-stroke" fill="#141414">(</text>
<text transform="matrix(0.3538 0 0 0.3649 -368.02 33.44)" font-size="100" font-family="'Liberation Serif', serif" font-style="italic" stroke="#141414" stroke-width="0.35" vector-effect="non-scaling-stroke" fill="#141414">t</text>
<text transform="matrix(0.4038 0 0 0.3733 -358.61 33.36)" font-size="100" font-family="'Liberation Serif', serif" stroke="#141414" stroke-width="0.35" vector-effect="non-scaling-stroke" fill="#141414">)</text>
<text transform="matrix(0.5000 0 0 0.4933 -345.30 36.24)" font-size="100" font-family="'Liberation Serif', serif" stroke="#141414" stroke-width="0.35" vector-effect="non-scaling-stroke" fill="#141414">)</text>
</g>
<text transform="matrix(0.4740 0 0 0.4792 575.35 46.52)" font-size="100" font-family="'Liberation Serif', serif" stroke="#141414" stroke-width="0.35" vector-effect="non-scaling-stroke" fill="#141414">max</text>
<text transform="matrix(0.5267 0 0 0.6537 660.16 50.40)" font-size="100" font-family="'Liberation Serif', serif" stroke="#141414" stroke-width="0.7" vector-effect="non-scaling-stroke" fill="#141414">{</text>
<text transform="matrix(0.4067 0 0 0.4174 683.61 47.10)" font-size="100" font-family="'Liberation Serif', serif" font-style="italic" stroke="#141414" stroke-width="0.35" vector-effect="non-scaling-stroke" fill="#141414">x</text>
<text transform="matrix(0.4192 0 0 0.4267 702.32 46.74)" font-size="100" font-family="'Liberation Serif', serif" stroke="#141414" stroke-width="0.35" vector-effect="non-scaling-stroke" fill="#141414">(</text>
<text transform="matrix(0.3923 0 0 0.4298 715.83 46.67)" font-size="100" font-family="'Liberation Serif', serif" font-style="italic" stroke="#141414" stroke-width="0.35" vector-effect="non-scaling-stroke" fill="#141414">t</text>
<text transform="matrix(0.4346 0 0 0.4267 726.30 46.74)" font-size="100" font-family="'Liberation Serif', serif" stroke="#141414" stroke-width="0.35" vector-effect="non-scaling-stroke" fill="#141414">)</text>
<text transform="matrix(0.4192 0 0 0.4000 750.02 46.80)" font-size="100" font-family="'Liberation Serif', serif" stroke="#141414" stroke-width="0.35" vector-effect="non-scaling-stroke" fill="#141414">-</text>
<text transform="matrix(0.4321 0 0 0.4338 773.70 46.90)" font-size="100" font-family="'Liberation Serif', serif" stroke="#141414" stroke-width="0.35" vector-effect="non-scaling-stroke" fill="#141414">E</text>
<text transform="matrix(0.5269 0 0 0.5256 798.99 46.46)" font-size="100" font-family="'Liberation Serif', serif" stroke="#141414" stroke-width="0.35" vector-effect="non-scaling-stroke" fill="#141414">(</text>
<text transform="matrix(0.4731 0 0 0.4338 814.42 46.90)" font-size="100" font-family="'Liberation Serif', serif" font-style="italic" fill="#141414">X</text>
<text transform="matrix(0.4231 0 0 0.4200 840.21 46.58)" font-size="100" font-family="'Liberation Serif', serif" stroke="#141414" stroke-width="0.35" vector-effect="non-scaling-stroke" fill="#141414">(</text>
<text transform="matrix(0.3962 0 0 0.4211 853.72 46.48)" font-size="100" font-family="'Liberation Serif', serif" font-style="italic" stroke="#141414" stroke-width="0.35" vector-effect="non-scaling-stroke" fill="#141414">t</text>
<text transform="matrix(0.4346 0 0 0.4200 864.60 46.58)" font-size="100" font-family="'Liberation Serif', serif" stroke="#141414" stroke-width="0.35" vector-effect="non-scaling-stroke" fill="#141414">)</text>
<text transform="matrix(0.5308 0 0 0.5256 877.71 46.46)" font-size="100" font-family="'Liberation Serif', serif" stroke="#141414" stroke-width="0.35" vector-effect="non-scaling-stroke" fill="#141414">)</text>
<text transform="matrix(0.5300 0 0 0.6537 895.33 50.40)" font-size="100" font-family="'Liberation Serif', serif" stroke="#141414" stroke-width="0.7" vector-effect="non-scaling-stroke" fill="#141414">}</text>
<text transform="matrix(0.4491 0 0 0.4333 509.70 247.30)" font-size="100" font-family="'Liberation Serif', serif" fill="#141414">Δ</text>
<text transform="matrix(0.4716 0 0 0.4369 539.01 247.60)" font-size="100" font-family="'Liberation Serif', serif" font-style="italic" fill="#141414">X</text>
<text transform="matrix(0.3118 0 0 0.3146 563.98 256.49)" font-size="100" font-family="'Liberation Serif', serif" stroke="#141414" stroke-width="0.35" vector-effect="non-scaling-stroke" fill="#141414">max</text>
</svg>
</body></html>
